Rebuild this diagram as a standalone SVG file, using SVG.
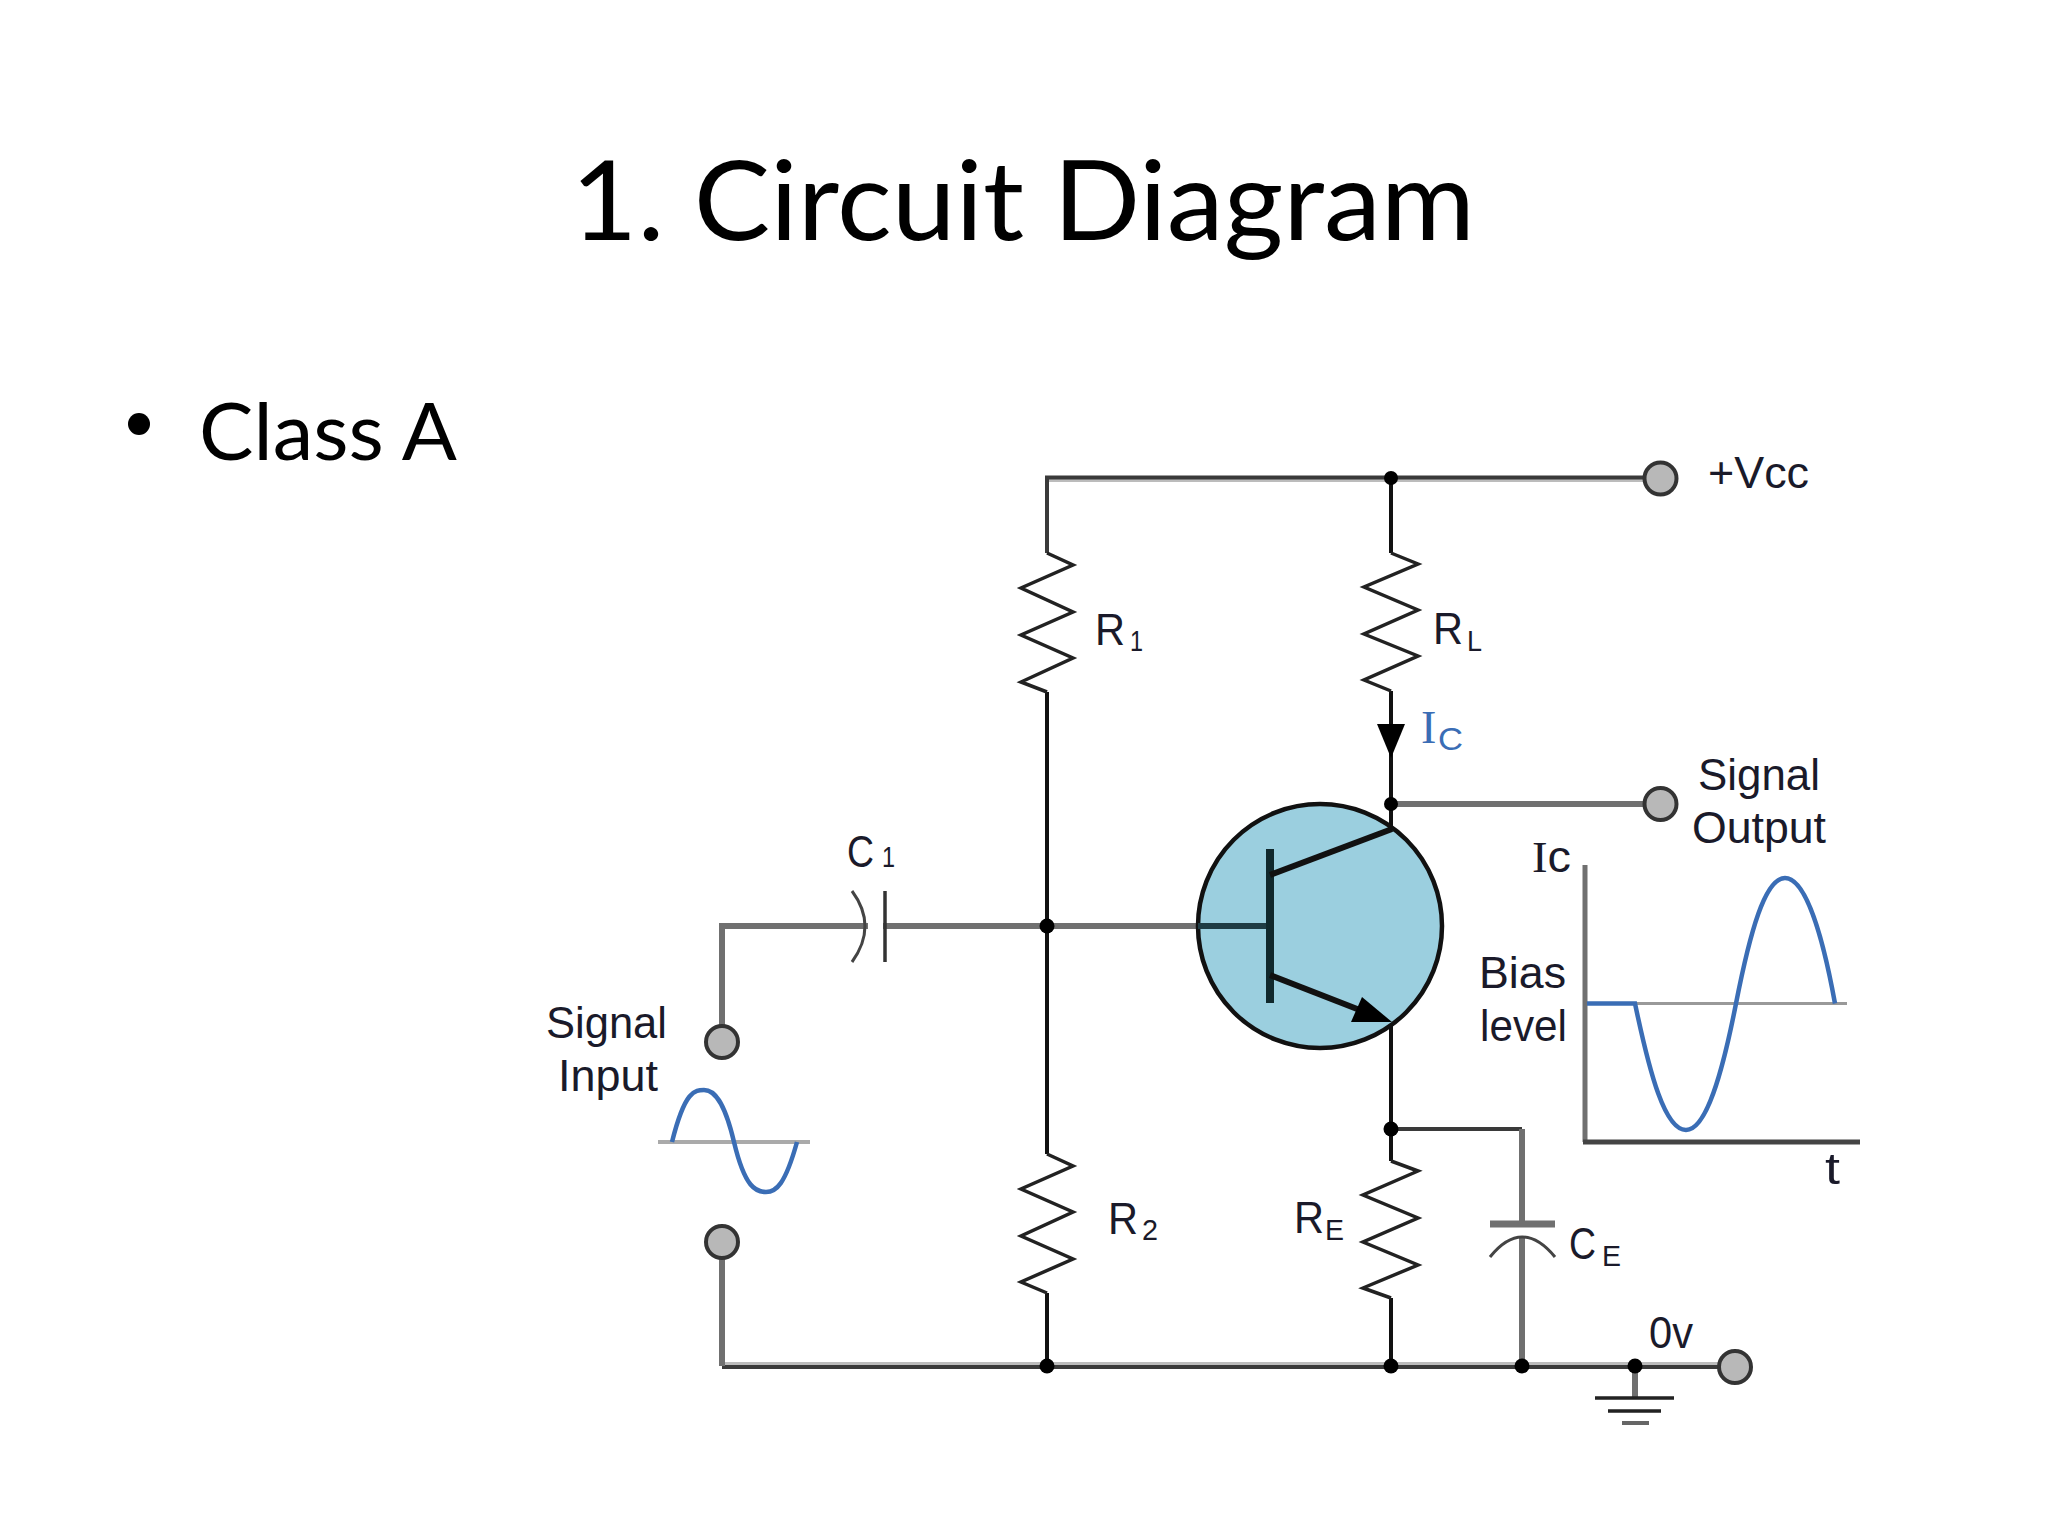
<svg xmlns="http://www.w3.org/2000/svg" width="2048" height="1536" viewBox="0 0 2048 1536">
<style>
.w{fill:none;stroke:#3a3a3a;stroke-width:4;stroke-linejoin:miter}
.sh{fill:none;stroke:#bcbcbc;stroke-width:3}
.b{fill:none;stroke:#111;stroke-width:4}
.g{fill:none;stroke:#707070;stroke-width:6}
.z{fill:none;stroke:#222;stroke-width:3.5}
.t{fill:#b8b8b8;stroke:#333;stroke-width:4}
.j{fill:#000}
.wave{fill:none;stroke:#3a6db5;stroke-width:4.5}
.l{font-family:"Liberation Sans",Arial,sans-serif;font-size:44px;fill:#1a1a2a}
.s{font-family:"Liberation Sans",Arial,sans-serif;font-size:30px;fill:#1a1a2a}
.h{font-family:Lato,"Noto Sans",sans-serif;fill:#000}
</style>
<rect width="2048" height="1536" fill="#fff"/>
<text class="h" x="571" y="240" font-size="110" textLength="904" lengthAdjust="spacingAndGlyphs">1. Circuit Diagram</text>
<circle class="j" cx="139" cy="424" r="11"/>
<text class="h" x="199" y="460" font-size="80" textLength="258" lengthAdjust="spacingAndGlyphs">Class A</text>
<g id="connectors">
<path class="sh" d="M1047 480.500H1643"/>
<path class="sh" d="M722 1363.500H1718"/>
<path class="w" d="M1047 553V477.500H1643"/>
<path class="b" d="M1047 692V1154M1047 1293V1366"/>
<path class="b" d="M1391 478V553M1391 691V804"/>
<path class="b" d="M1391 804V830M1391 1022V1161M1391 1298V1366"/>
<path class="w" d="M722 1367H1718"/>
<path class="g" d="M722 1025V926H1198"/>
<path class="g" d="M722 1258V1366"/>
<path class="g" d="M1391 804H1644"/>
<path class="w" d="M1391 1129H1522"/>
<path class="g" d="M1522 1129V1224M1522 1238V1366"/>
<path class="g" d="M1635 1366V1398"/>
</g>
<g id="R1"><path class="z" d="M1047 553L1073 565L1021 588L1073 612L1021 635L1073 658L1021 682L1047 692"/><text class="l" x="1095" y="645" textLength="30" lengthAdjust="spacingAndGlyphs">R</text><text class="s" x="1130" y="651" textLength="13" lengthAdjust="spacingAndGlyphs">1</text></g>
<g id="RL"><path class="z" d="M1391 553L1418 564L1364 587L1418 610L1364 634L1418 656L1364 680L1391 691"/><text class="l" x="1433" y="644" textLength="30" lengthAdjust="spacingAndGlyphs">R</text><text class="s" x="1467" y="651" textLength="15" lengthAdjust="spacingAndGlyphs">L</text></g>
<g id="R2"><path class="z" d="M1047 1154L1073 1166L1021 1189L1073 1212L1021 1236L1073 1259L1021 1282L1047 1293"/><text class="l" x="1108" y="1234" textLength="30" lengthAdjust="spacingAndGlyphs">R</text><text class="s" x="1142" y="1240" textLength="16" lengthAdjust="spacingAndGlyphs">2</text></g>
<g id="RE"><path class="z" d="M1391 1161L1418 1171L1363 1195L1418 1218L1363 1242L1418 1265L1363 1288L1391 1298"/><text class="l" x="1294" y="1233" textLength="30" lengthAdjust="spacingAndGlyphs">R</text><text class="s" x="1325" y="1240" textLength="19" lengthAdjust="spacingAndGlyphs">E</text></g>
<g id="C1"><path d="M852 891Q878 926 852 962" fill="none" stroke="#444" stroke-width="3"/><path d="M885 891V962" stroke="#333" stroke-width="3.500" fill="none"/><rect x="868" y="922" width="15" height="8" fill="#fff"/><text class="l" x="847" y="867" textLength="27" lengthAdjust="spacingAndGlyphs">C</text><text class="s" x="882" y="867" textLength="13" lengthAdjust="spacingAndGlyphs">1</text></g>
<g id="CE"><path d="M1490 1224H1555" stroke="#707070" stroke-width="7" fill="none"/><path d="M1490 1257Q1522 1217 1555 1257" fill="none" stroke="#444" stroke-width="3"/><text class="l" x="1569" y="1259" textLength="27" lengthAdjust="spacingAndGlyphs">C</text><text class="s" x="1602" y="1266" textLength="19" lengthAdjust="spacingAndGlyphs">E</text></g>
<g id="transistor">
<circle cx="1320" cy="926" r="122" fill="#9bcfdf" stroke="#111" stroke-width="4.500"/>
<path d="M1198 926H1270" stroke="#1f3c44" stroke-width="6" fill="none"/>
<path d="M1270 849V1003" stroke="#10282c" stroke-width="8" fill="none"/>
<path d="M1270 875L1392 829" stroke="#111" stroke-width="6" fill="none"/>
<path d="M1270 975L1370 1014" stroke="#111" stroke-width="6" fill="none"/>
<path d="M1392 1022L1362 997L1351 1022Z" fill="#000"/>
</g>
<g id="ic-arrow"><path d="M1377 724H1405L1391 758Z" fill="#000"/><text x="1421" y="743" font-family="Liberation Serif,serif" font-size="46" fill="#3a6db5">I</text><text x="1438" y="750" font-family="Liberation Sans,sans-serif" font-size="32" fill="#3a6db5" textLength="25" lengthAdjust="spacingAndGlyphs">C</text></g>
<g id="junctions">
<circle class="j" cx="1391" cy="478" r="7"/><circle class="j" cx="1391" cy="804" r="7"/><circle class="j" cx="1047" cy="926" r="7.500"/><circle class="j" cx="1047" cy="1366" r="7.500"/><circle class="j" cx="1391" cy="1366" r="7.500"/><circle class="j" cx="1391" cy="1129" r="7.500"/><circle class="j" cx="1522" cy="1366" r="7.500"/><circle class="j" cx="1635" cy="1366" r="7.500"/>
</g>
<g id="vcc"><circle class="t" cx="1660.500" cy="478.500" r="16"/><text class="l" x="1708" y="488" font-size="40" textLength="101" lengthAdjust="spacingAndGlyphs">+Vcc</text></g>
<g id="output"><circle class="t" cx="1660.500" cy="804" r="16"/><text class="l" x="1698" y="790" textLength="122" lengthAdjust="spacingAndGlyphs">Signal</text><text class="l" x="1692" y="843" textLength="134" lengthAdjust="spacingAndGlyphs">Output</text></g>
<g id="input"><circle class="t" cx="722" cy="1042" r="16"/><circle class="t" cx="722" cy="1242" r="16"/><text class="l" x="546" y="1038" textLength="121" lengthAdjust="spacingAndGlyphs">Signal</text><text class="l" x="558" y="1091" textLength="100" lengthAdjust="spacingAndGlyphs">Input</text>
<path d="M658 1142H810" stroke="#aaa" stroke-width="4" fill="none"/>
<path class="wave" d="M672 1142C685 1090 695 1090 704 1090C714 1090 724 1100 734 1142C745 1188 756 1192 766 1192C776 1192 785 1185 797 1142"/></g>
<g id="ground"><path d="M1595 1398H1674M1608 1411H1661" stroke="#222" stroke-width="3.500" fill="none"/><path d="M1622 1423H1649" stroke="#666" stroke-width="4" fill="none"/><circle class="t" cx="1735" cy="1367" r="16"/><text class="l" x="1649" y="1348" textLength="44" lengthAdjust="spacingAndGlyphs">0v</text></g>
<g id="graph">
<path d="M1585 865V1142" stroke="#707070" stroke-width="5" fill="none"/>
<path d="M1583 1142H1860" stroke="#444" stroke-width="5" fill="none"/>
<path d="M1587 1003.500H1847" stroke="#999" stroke-width="3" fill="none"/>
<path class="wave" d="M1587 1003.500H1635C1650 1075 1665 1130 1686 1130C1706 1130 1722 1075 1736 1003.500C1750 932 1765 878 1785 878C1805 878 1822 932 1835 1003.500"/>
<text class="l" x="1532" y="872" textLength="39" lengthAdjust="spacingAndGlyphs"><tspan font-family="Liberation Serif,serif">I</tspan>c</text>
<text class="l" x="1479" y="988" textLength="87" lengthAdjust="spacingAndGlyphs">Bias</text>
<text class="l" x="1480" y="1041" textLength="87" lengthAdjust="spacingAndGlyphs">level</text>
<text class="l" x="1825" y="1184" font-size="52" textLength="15" lengthAdjust="spacingAndGlyphs">t</text>
</g>
</svg>
